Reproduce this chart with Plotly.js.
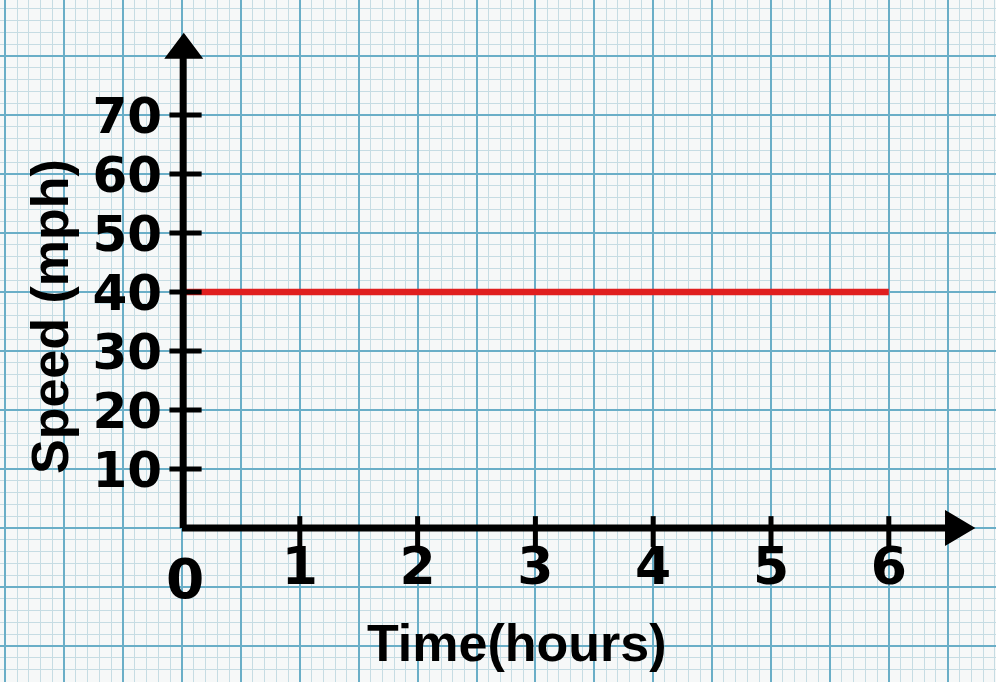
<!DOCTYPE html>
<html>
<head>
<meta charset="utf-8">
<script src="https://cdn.plot.ly/plotly-3.0.1.min.js"></script>
<style>html,body{margin:0;padding:0;background:#f6f8f8;}#chart{width:996px;height:682px;}</style>
</head>
<body>
<div id="chart"></div>
<script>
// ---- data ----
const timeHours = [0, 6];
const speedMph = [40, 40];
const xTickVals = [0, 1, 2, 3, 4, 5, 6];
const xTickText = ['0', '1', '2', '3', '4', '5', '6'];
const yTickVals = [10, 20, 30, 40, 50, 60, 70];
const yTickText = ['10', '20', '30', '40', '50', '60', '70'];
const xTitle = 'Time(hours)';
const yTitle = 'Speed (mph)';

// ---- layout geometry ----
const W = 996, H = 682;
const x0px = 182, pxPerHour = 117.8;
const y0px = 528, pxPerMph = 5.9;
const xRange = [-x0px / pxPerHour, (W - x0px) / pxPerHour];
const yRange = [-(H - y0px) / pxPerMph, y0px / pxPerMph];

const majorGrid = '#6aaec7';
const minorGrid = '#c6dce3';
const bg = '#f6f8f8';
const digitFont = {family: 'DejaVu Sans', size: 50, color: '#000', weight: 'bold'};
const titleFont = {family: 'Liberation Sans', size: 52, color: '#000', weight: 'bold'};

const traces = [
  {x: timeHours, y: speedMph, xaxis: 'x', yaxis: 'y', mode: 'lines',
   line: {color: '#e01e1e', width: 6.5}, hoverinfo: 'skip', showlegend: false},
  {x: xTickVals.slice(1), y: xTickVals.slice(1).map(() => -0.6), xaxis: 'x2', yaxis: 'y2', mode: 'markers',
   marker: {symbol: 'line-ns', size: 22, line: {color: '#000', width: 5}}, hoverinfo: 'skip', showlegend: false},
  {x: yTickVals.map(() => 0.03), y: yTickVals, xaxis: 'x2', yaxis: 'y2', mode: 'markers',
   marker: {symbol: 'line-ew', size: 23, line: {color: '#000', width: 5}}, hoverinfo: 'skip', showlegend: false}
];

const layout = {
  width: W, height: H,
  margin: {l: 0, r: 0, t: 0, b: 0, pad: 0},
  paper_bgcolor: bg, plot_bgcolor: bg,
  showlegend: false,
  xaxis: {domain: [0, 1], range: xRange, tick0: 0, dtick: 0.5, showgrid: true, gridcolor: majorGrid, gridwidth: 2,
          zeroline: false, showticklabels: false, ticks: '', showline: false,
          minor: {tick0: 0, dtick: 0.1, showgrid: true, gridcolor: minorGrid, gridwidth: 1, ticks: ''}},
  yaxis: {domain: [0, 1], range: yRange, tick0: 0, dtick: 10, showgrid: true, gridcolor: majorGrid, gridwidth: 2,
          zeroline: false, showticklabels: false, ticks: '', showline: false,
          minor: {tick0: 0, dtick: 2, showgrid: true, gridcolor: minorGrid, gridwidth: 1, ticks: ''}},
  xaxis2: {overlaying: 'x', anchor: 'free', position: (H - y0px + 25) / H, range: xRange,
           tickmode: 'array', tickvals: xTickVals.slice(1), ticktext: xTickText.slice(1),
           showgrid: false, zeroline: false, showline: false,
           ticks: 'outside', ticklen: 18, tickcolor: 'rgba(0,0,0,0)', tickfont: Object.assign({}, digitFont, {size: 52})},
  yaxis2: {overlaying: 'y', anchor: 'free', position: x0px / W, side: 'left', range: yRange,
           tickmode: 'array', tickvals: yTickVals, ticktext: yTickText,
           showgrid: false, zeroline: false, showline: false,
           ticks: 'outside', ticklen: 10, tickcolor: 'rgba(0,0,0,0)', tickfont: digitFont},
  shapes: [
    // x axis line
    {type: 'line', xref: 'x', yref: 'y', x0: 0, y0: 0, x1: 6.55, y1: 0, line: {color: '#000', width: 7}, layer: 'above'},
    // y axis line
    {type: 'line', xref: 'x', yref: 'y', x0: 0.01, y0: 0, x1: 0.01, y1: 80.5, line: {color: '#000', width: 7}, layer: 'above'},
    // arrowheads
    {type: 'path', xref: 'x', yref: 'y', path: 'M 6.49 2.6 L 6.71 0 L 6.49 -2.6 Z', fillcolor: '#000', line: {color: '#000', width: 3}, layer: 'above'},
    {type: 'path', xref: 'x', yref: 'y', path: 'M -0.125 79.8 L 0.015 83.5 L 0.155 79.8 Z', fillcolor: '#000', line: {color: '#000', width: 3}, layer: 'above'}
  ],
  annotations: [
    {xref: 'x', yref: 'y', x: xTickVals[0], y: 0, text: xTickText[0], showarrow: false, font: Object.assign({}, digitFont, {size: 55}),
     xanchor: 'center', yanchor: 'middle', xshift: 3, yshift: -51},
    {xref: 'paper', yref: 'paper', x: 517 / W, y: 1 - 643 / H, text: xTitle, showarrow: false, font: titleFont,
     xanchor: 'center', yanchor: 'middle'},
    {xref: 'paper', yref: 'paper', x: 50 / W, y: 1 - 317 / H, text: yTitle, showarrow: false, font: titleFont,
     textangle: -90, xanchor: 'center', yanchor: 'middle'}
  ]
};

Plotly.newPlot('chart', traces, layout, {staticPlot: true, displayModeBar: false});
</script>
</body>
</html>
